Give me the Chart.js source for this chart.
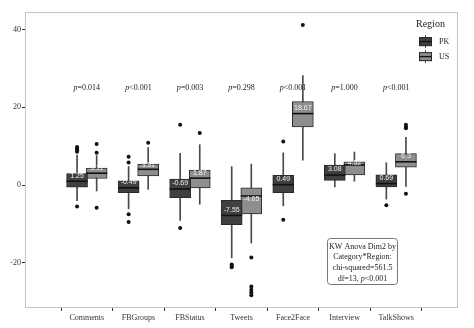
<!DOCTYPE html>
<html>
<head>
<meta charset="utf-8">
<script src="https://cdn.jsdelivr.net/npm/chart.js@4.4.1/dist/chart.umd.min.js"></script>
<style>
  html, body { margin: 0; padding: 0; background: #fff; }
  #wrap { width: 474px; height: 328px; }
</style>
</head>
<body>
<div id="wrap"><canvas id="chart"></canvas></div>
<script>
const categories = ['Comments', 'FBGroups', 'FBStatus', 'Tweets', 'Face2Face', 'Interview', 'TalkShows'];
const pValues = ['=0.014', '<0.001', '=0.003', '=0.298', '<0.001', '=1.000', '<0.001'];
const yTicks = [-20, 0, 20, 40];

// PK boxplot stats per category
const pkLow = [-4.0, -6.1, -9.1, -18.7, -5.3, -0.45, -3.6];
const pkQ1 = [-0.5, -1.96, -3.2, -10.2, -1.96, 1.23, -0.45];
const pkMedian = [1.0, -0.7, -1.0, -7.8, 0.13, 2.6, 0.4];
const pkQ3 = [2.95, 1.13, 1.56, -3.9, 2.5, 5.15, 2.64];
const pkHigh = [7.7, 4.8, 8.2, 4.75, 8.3, 8.1, 5.75];
const pkMean = [1.25, -0.49, -0.69, -7.55, 0.49, 3.08, 0.69];
const pkOutliers = [
  [9.8, 9.4, 9.0, 8.6, -5.5],
  [7.3, 5.8, -7.5, -9.5],
  [15.5, -11.0],
  [-20.4, -20.8, -21.1],
  [11.2, -8.9],
  [],
  [-5.2]
];

// US boxplot stats per category
const usLow = [-1.5, -1.1, -4.9, -14.9, 6.4, 1.0, -0.3];
const usQ1 = [1.7, 2.4, -0.7, -7.4, 14.95, 2.6, 4.6];
const usMedian = [3.07, 4.07, 1.8, -2.8, 18.4, 5.2, 6.0];
const usQ3 = [4.4, 5.4, 3.9, -0.7, 21.5, 6.0, 8.1];
const usHigh = [7.6, 9.7, 10.4, 5.4, 28.2, 8.5, 12.3];
const usMean = [3.11, 3.91, 1.87, -4.65, 18.67, 4.52, 6.3];
const usOutliers = [
  [10.6, 8.3, -5.8],
  [10.9],
  [13.4],
  [-18.6, -26.1, -26.9, -27.6, -28.3],
  [41.2],
  [],
  [15.5, 15.0, 14.6, -2.2]
];

const SERIF = '"Liberation Serif", "Times New Roman", serif';
const SANS = '"Liberation Sans", Arial, sans-serif';
const DODGE = 0.19;      // half distance between the two boxes of a category
const P_LABEL_Y = 25;    // height of the p-value row

const regions = [
  { name: 'PK', offset: -DODGE, fill: '#404040', low: pkLow, q1: pkQ1, median: pkMedian, q3: pkQ3, high: pkHigh, mean: pkMean, outliers: pkOutliers },
  { name: 'US', offset: DODGE, fill: '#8e8e8e', low: usLow, q1: usQ1, median: usMedian, q3: usQ3, high: usHigh, mean: usMean, outliers: usOutliers }
];

// each region becomes whiskers + box (floating bars), median ticks and outlier dots
const datasets = [];
regions.forEach(r => {
  const at = (i, y) => ({ x: i + r.offset, y });
  datasets.push({
    type: 'bar', label: r.name + ' whisker', order: 3, grouped: false,
    data: categories.map((c, i) => at(i, [r.low[i], r.high[i]])),
    backgroundColor: '#4a4a4a', borderWidth: 0, barThickness: 1
  });
  datasets.push({
    type: 'bar', label: r.name, order: 2, grouped: false,
    data: categories.map((c, i) => at(i, [r.q1[i], r.q3[i]])),
    backgroundColor: r.fill, borderColor: '#2a2a2a', borderWidth: 1,
    borderSkipped: false, barThickness: 21
  });
  datasets.push({
    type: 'scatter', label: r.name + ' median', order: 1,
    data: categories.map((c, i) => at(i, r.median[i])),
    pointStyle: 'line', pointRadius: 10.5, borderColor: '#111', borderWidth: 1.6
  });
  datasets.push({
    type: 'scatter', label: r.name + ' outliers', order: 1,
    data: r.outliers.flatMap((vals, i) => vals.map(v => at(i, v))),
    pointRadius: 2, backgroundColor: '#111', borderWidth: 0
  });
});

// draws a line of text made of plain and italic pieces, centred on cx
function drawRuns(ctx, runs, cx, y, size) {
  const fontOf = run => (run.italic ? 'italic ' : '') + size + 'px ' + SERIF;
  let total = 0;
  runs.forEach(run => { ctx.font = fontOf(run); total += ctx.measureText(run.text).width; });
  let x = cx - total / 2;
  ctx.textAlign = 'left';
  runs.forEach(run => {
    ctx.font = fontOf(run);
    ctx.fillText(run.text, x, y);
    x += ctx.measureText(run.text).width;
  });
}

const panelBorder = {
  id: 'panelBorder',
  beforeDatasetsDraw(chart) {
    const { ctx, chartArea: a } = chart;
    ctx.save();
    ctx.strokeStyle = '#c4c4c4';
    ctx.lineWidth = 1;
    ctx.strokeRect(a.left + 0.5, a.top + 0.5, a.right - a.left - 1, a.bottom - a.top - 1);
    ctx.restore();
  }
};

const annotations = {
  id: 'annotations',
  afterDatasetsDraw(chart) {
    const { ctx, chartArea: a } = chart;
    const xs = chart.scales.x, ys = chart.scales.y;
    ctx.save();
    ctx.textBaseline = 'middle';

    // mean labels sitting on each box
    ctx.font = '7px ' + SANS;
    ctx.textAlign = 'center';
    ctx.fillStyle = '#f2f2f2';
    regions.forEach(r => {
      r.mean.forEach((m, i) => {
        ctx.fillText(String(m), xs.getPixelForValue(i + r.offset), ys.getPixelForValue(m) - 4.5);
      });
    });

    // p-values per category
    ctx.fillStyle = '#222';
    pValues.forEach((p, i) => {
      drawRuns(ctx, [{ text: 'p', italic: true }, { text: p }], xs.getPixelForValue(i), ys.getPixelForValue(P_LABEL_Y), 8);
    });

    // legend
    const lx = a.right - 41;
    ctx.font = '10px ' + SERIF;
    ctx.textAlign = 'left';
    ctx.fillText('Region', lx - 1, a.top + 12);
    regions.forEach((r, k) => {
      const top = a.top + 25 + k * 15;
      const cx = lx + 8.5;
      ctx.strokeStyle = '#4a4a4a';
      ctx.lineWidth = 1;
      ctx.beginPath();
      ctx.moveTo(cx, top - 2);
      ctx.lineTo(cx, top + 11);
      ctx.stroke();
      ctx.fillStyle = r.fill;
      ctx.fillRect(lx + 2, top, 13, 9);
      ctx.strokeStyle = '#2a2a2a';
      ctx.strokeRect(lx + 2.5, top + 0.5, 12, 8);
      ctx.strokeStyle = '#111';
      ctx.lineWidth = 1.4;
      ctx.beginPath();
      ctx.moveTo(lx + 2.5, top + 4.5);
      ctx.lineTo(lx + 14.5, top + 4.5);
      ctx.stroke();
      ctx.fillStyle = '#222';
      ctx.font = '8px ' + SERIF;
      ctx.fillText(r.name, lx + 22, top + 4.5);
    });

    // Kruskal-Wallis summary box
    const bx = a.right - 131, by = a.bottom - 70, bw = 70, bh = 46;
    ctx.fillStyle = '#fff';
    ctx.strokeStyle = '#777';
    ctx.lineWidth = 1;
    ctx.beginPath();
    ctx.roundRect(bx + 0.5, by + 0.5, bw, bh, 3);
    ctx.fill();
    ctx.stroke();
    ctx.fillStyle = '#222';
    const lines = [
      [{ text: 'KW Anova Dim2 by' }],
      [{ text: 'Category*Region:' }],
      [{ text: 'chi-squared=561.5' }],
      [{ text: 'df=13, ' }, { text: 'p', italic: true }, { text: '<0.001' }]
    ];
    lines.forEach((runs, k) => drawRuns(ctx, runs, bx + bw / 2 + 0.5, by + 8.5 + k * 10.8, 8));

    ctx.restore();
  }
};

new Chart(document.getElementById('chart'), {
  type: 'bar',
  data: { datasets },
  options: {
    responsive: true,
    maintainAspectRatio: false,
    animation: false,
    events: [],
    layout: { padding: { top: 5, right: 16, left: 0, bottom: 0 } },
    plugins: {
      legend: { display: false },
      tooltip: { enabled: false }
    },
    scales: {
      x: {
        type: 'linear',
        min: -0.6,
        max: 6.6,
        afterBuildTicks: s => { s.ticks = categories.map((c, i) => ({ value: i })); },
        afterFit: s => { s.height = 20; },
        grid: { drawOnChartArea: false, tickLength: 3, color: '#333' },
        border: { display: false },
        ticks: {
          callback: v => categories[v],
          autoSkip: false,
          maxRotation: 0,
          padding: 2,
          color: '#333',
          font: { family: SERIF, size: 8 }
        }
      },
      y: {
        min: -31.6,
        max: 44.5,
        afterBuildTicks: s => { s.ticks = yTicks.map(v => ({ value: v })); },
        afterFit: s => { s.width = 25; },
        grid: { drawOnChartArea: false, tickLength: 3, color: '#333' },
        border: { display: false },
        ticks: {
          padding: 1,
          color: '#333',
          font: { family: SERIF, size: 8 }
        }
      }
    }
  },
  plugins: [panelBorder, annotations]
});
</script>
</body>
</html>
